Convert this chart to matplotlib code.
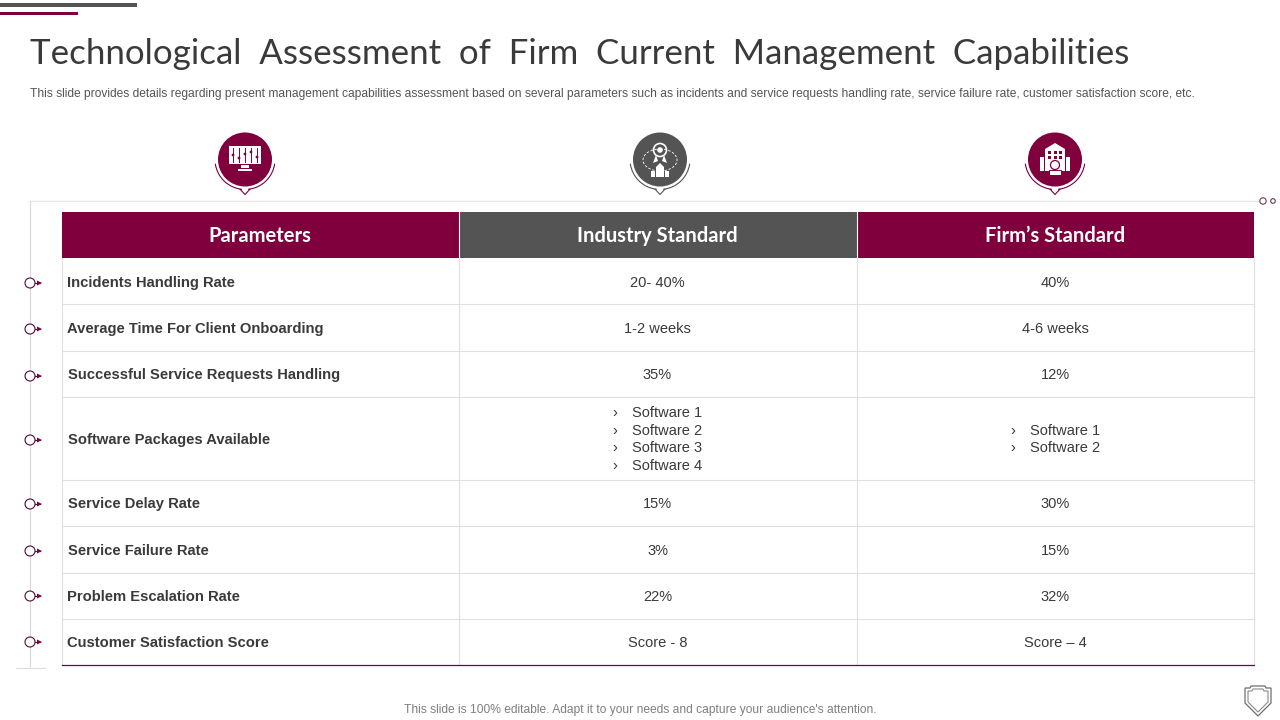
import matplotlib
matplotlib.use("Agg")
import matplotlib.pyplot as plt
from matplotlib.patches import Circle, Rectangle, Polygon, Arc, Ellipse

plt.rcParams['font.family'] = ['Liberation Sans', 'DejaVu Sans']

maroon = '#7f003c'
grey = '#545454'
line_col = '#e0e0e0'
text_col = '#3a3a3a'

title = "Technological  Assessment  of  Firm  Current  Management  Capabilities"
subtitle = ("This slide provides details regarding present management capabilities assessment based on several "
            "parameters such as incidents and service requests handling rate, service failure rate, customer "
            "satisfaction score, etc.")
footer = "This slide is 100% editable. Adapt it to your needs and capture your audience's attention."

headers = ["Parameters", "Industry Standard", "Firm\u2019s Standard"]
parameters = ["Incidents Handling Rate", "Average Time For Client Onboarding", "Successful Service Requests Handling",
              "Software Packages Available", "Service Delay Rate", "Service Failure Rate",
              "Problem Escalation Rate", "Customer Satisfaction Score"]
industry = ["20- 40%", "1-2 weeks", "35%", ["Software 1", "Software 2", "Software 3", "Software 4"],
            "15%", "3%", "22%", "Score - 8"]
firm = ["40%", "4-6 weeks", "12%", ["Software 1", "Software 2"], "30%", "15%", "32%", "Score \u2013 4"]

col_edges = [61.5, 459, 856.5, 1254]
row_edges = [258, 304, 350.5, 397, 479.5, 526, 572.5, 618.5, 665]
label_x = [67, 67, 68, 68, 68, 68, 67, 67]
text_y = [283, 329, 375, 440, 504, 551, 597, 643]
marker_y = [283, 329, 376, 440, 504, 551, 596, 642]

fig = plt.figure(figsize=(12.8, 7.2), dpi=100)
ax = fig.add_axes([0, 0, 1, 1])
ax.set_xlim(0, 1280)
ax.set_ylim(720, 0)
ax.axis('off')

# top bars
ax.add_patch(Rectangle((0, 3), 137, 4, color=grey, lw=0))
ax.add_patch(Rectangle((0, 11.5), 78, 3.5, color=maroon, lw=0))

ax.text(30, 53.5, title, fontsize=25.08, family=['Lato', 'DejaVu Sans'], fontweight='normal',
        color='#3a3a3a', va='center', ha='left')
ax.text(30, 94, subtitle, fontsize=8.63, color='#555555', va='center', ha='left')
ax.text(640, 710, footer, fontsize=8.65, color='#7f7f7f', va='center', ha='center')

# outer frame lines and timeline
ax.plot([29.5, 1258], [200.5, 200.5], color='#e4e4e4', lw=0.9)
ax.plot([29.5, 29.5], [200.5, 666], color='#d8d8d8', lw=0.8)
ax.plot([16, 45], [667.5, 667.5], color='#dcdcdc', lw=0.8)
ax.add_patch(Circle((1263, 201), 3.2, fc='white', ec='#6b3a52', lw=0.8, zorder=3))
ax.add_patch(Circle((1273, 201), 2.3, fc='white', ec='#6b3a52', lw=0.8, zorder=3))

# header cells
header_cols = [maroon, grey, maroon]
for i in range(3):
    ax.add_patch(Rectangle((col_edges[i], 212), col_edges[i + 1] - col_edges[i], 46, color=header_cols[i], lw=0))
    ax.text((col_edges[i] + col_edges[i + 1]) / 2, 236.5, headers[i], fontsize=14.5, color='white', fontweight='bold',
            family=['Lato', 'DejaVu Sans'], ha='center', va='center')
ax.plot([459, 459], [212, 258], color='white', lw=0.8)
ax.plot([856.5, 856.5], [212, 258], color='white', lw=0.8)

# grid lines
for y in row_edges[1:-1]:
    ax.plot([61.5, 1254], [y, y], color=line_col, lw=0.8)
for x in col_edges:
    ax.plot([x, x], [258, 665], color=line_col, lw=0.8)
ax.plot([61.5, 1254], [665, 665], color='#6a0a3f', lw=0.9)


def draw_cell(cx, y, val):
    if isinstance(val, list):
        top = y - (len(val) - 1) * 17.6 / 2 - 0.5
        for j, s in enumerate(val):
            yy = top + j * 17.6
            ax.text(cx - 45, yy, "\u203a", fontsize=10.5, color=text_col, ha='left', va='center')
            ax.text(cx + 9.5, yy, s, fontsize=10.5, color=text_col, ha='center', va='center')
    else:
        ax.text(cx, y, val, fontsize=10.5, color=text_col, ha='center', va='center')


for i, p in enumerate(parameters):
    ax.text(label_x[i], text_y[i], p, fontsize=10.65, fontweight='bold', color=text_col, ha='left', va='center')
    draw_cell(657.5, text_y[i], industry[i])
    draw_cell(1055.5, text_y[i], firm[i])
    # timeline markers
    ax.plot([35, 40], [marker_y[i], marker_y[i]], color=maroon, lw=0.8)
    ax.add_patch(Polygon([[37, marker_y[i] - 2.5], [42, marker_y[i]], [37, marker_y[i] + 2.5]], color=maroon, lw=0))
    ax.add_patch(Circle((30, marker_y[i]), 5, fc='white', ec='#5a0a35', lw=0.8, zorder=3))


def badge(cx, cy, col):
    ax.add_patch(Circle((cx, cy), 27, color=col, lw=0, zorder=2))
    ax.add_patch(Arc((cx, cy), 60, 60, theta1=8, theta2=84, color=col, lw=0.8))
    ax.add_patch(Arc((cx, cy), 60, 60, theta1=96, theta2=172, color=col, lw=0.8))
    ax.plot([cx - 5, cx, cx + 5], [cy + 29.6, cy + 35, cy + 29.6], color=col, lw=0.8)


badge(245, 159.5, maroon)
badge(660, 159.5, grey)
badge(1055, 159.5, maroon)

# monitor icon
ax.add_patch(Rectangle((229, 146), 32, 18, color='white', lw=0, zorder=3))
ax.add_patch(Rectangle((241, 165), 8, 3, color='white', lw=0, zorder=3))
ax.add_patch(Rectangle((238, 169), 14, 1.5, color='white', lw=0, zorder=3))
for x, k in zip([233, 239, 245, 251, 257], [155, 158, 154, 152, 157]):
    ax.plot([x, x], [148, 162], color=maroon, lw=0.7, zorder=4)
    ax.add_patch(Circle((x, k), 1.4, color=maroon, lw=0, zorder=4))

# award icon
ax.add_patch(Circle((660, 150), 6.5, fc='none', ec='white', lw=1.2, zorder=3))
ax.add_patch(Circle((660, 150), 2.8, color='white', lw=0, zorder=3))
ax.add_patch(Polygon([[656, 155], [653, 163], [658, 161]], color='white', lw=0, zorder=3))
ax.add_patch(Polygon([[664, 155], [667, 163], [662, 161]], color='white', lw=0, zorder=3))
ax.add_patch(Ellipse((660, 160), 34, 22, fc='none', ec='white', lw=0.6, ls=(0, (3, 2)), zorder=3))
ax.add_patch(Rectangle((656, 167), 8, 10, color='white', lw=0, zorder=3))
ax.add_patch(Polygon([[656, 167], [660, 163], [664, 167]], color='white', lw=0, zorder=3))
ax.add_patch(Rectangle((651, 171), 4, 6, color='white', lw=0, zorder=3))
ax.add_patch(Rectangle((665, 171), 4, 6, color='white', lw=0, zorder=3))

# building icon
ax.add_patch(Rectangle((1045, 149), 20, 22, color='white', lw=0, zorder=3))
ax.add_patch(Polygon([[1045, 149], [1055, 143], [1065, 149]], color='white', lw=0, zorder=3))
ax.add_patch(Rectangle((1040, 157), 4, 14, color='white', lw=0, zorder=3))
ax.add_patch(Rectangle((1066, 157), 4, 14, color='white', lw=0, zorder=3))
for wx in [1048, 1053.5, 1059]:
    for wy in [151, 156]:
        ax.add_patch(Rectangle((wx, wy), 3, 3, color=maroon, lw=0, zorder=4))
ax.add_patch(Circle((1055, 165), 4.5, fc='white', ec=maroon, lw=0.9, zorder=4))
ax.add_patch(Rectangle((1049, 170), 12, 5, fc='white', ec=maroon, lw=0.7, zorder=4))

# shield at bottom right
outer = [[1245, 688], [1250, 688], [1251, 686], [1265, 686], [1266, 688], [1271, 688],
         [1271, 703], [1258, 716], [1245, 703]]
inner = [[1248, 691], [1252, 691], [1253, 689], [1263, 689], [1264, 691], [1268, 691],
         [1268, 702], [1258, 712], [1248, 702]]
ax.add_patch(Polygon(outer, fc='none', ec='#6e6e6e', lw=0.9))
ax.add_patch(Polygon(inner, fc='none', ec='#8a8a8a', lw=0.8))

fig.savefig('out.png', dpi=100)
